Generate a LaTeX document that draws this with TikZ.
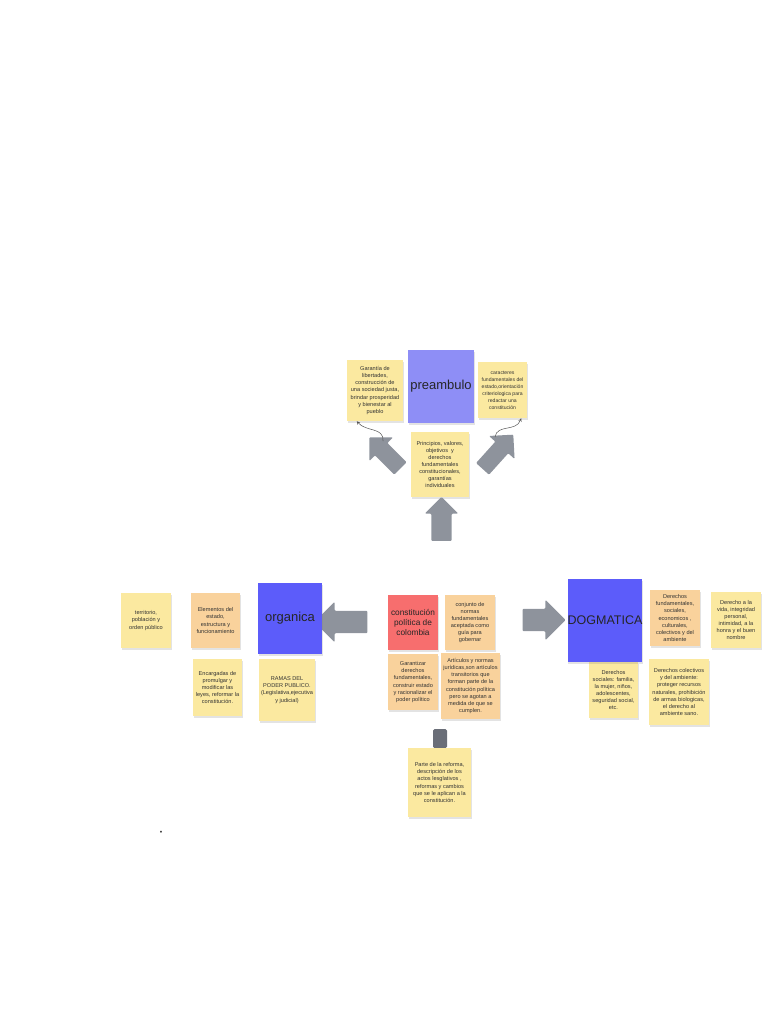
\documentclass[tikz,border=0pt]{standalone}
\usepackage{fontspec}
\setmainfont{Liberation Sans}
\usetikzlibrary{shapes.arrows,shadows}
\definecolor{noteyellow}{HTML}{FBE9A0}
\definecolor{notepeach}{HTML}{F9D29C}
\definecolor{notetext}{HTML}{333333}
\definecolor{lightblue}{HTML}{8E8EF6}
\definecolor{deepblue}{HTML}{5C5CFA}
\definecolor{redbox}{HTML}{F76E6E}
\definecolor{arrowgray}{HTML}{8E939C}
\definecolor{tabgray}{HTML}{6A6E78}
\definecolor{linkgray}{HTML}{555555}
\tikzset{
	noteshadow/.style = {drop shadow={shadow xshift=0.5pt, shadow yshift=-2pt, opacity=0.22}},
	sticky/.style     = {fill=noteyellow, rectangle, inner sep=0pt, align=center, text=notetext,
	                     font=\fontsize{5.6}{7.1}\selectfont, noteshadow},
	peach/.style      = {sticky, fill=notepeach},
	titlebox/.style   = {rectangle, inner sep=0pt, align=center, text=black!85, noteshadow},
	bigarrow/.style   = {single arrow, fill=arrowgray, single arrow head indent=0pt, rounded corners=1pt},
	link/.style       = {->, >=stealth, draw=linkgray, line width=0.5pt},
}

\begin{document}
\begin{tikzpicture}[x=1pt, y=-1pt]
	\useasboundingbox (0,0) rectangle (768,1024);

	% Preambulo group
	\node[titlebox, fill=lightblue, minimum width=66pt, minimum height=73pt, font=\fontsize{13}{15}\selectfont] (preambulo) at (441,386.5) {preambulo};
	\node[sticky, minimum width=56pt, minimum height=61pt] (garantia) at (375,390.5)
		{Garantía de\\libertades,\\construcción de\\una sociedad justa,\\brindar prosperidad\\y bienestar al\\pueblo};
	\node[sticky, minimum width=49pt, minimum height=56pt, font=\fontsize{5.1}{7}\selectfont] (caracteres) at (502.5,390)
		{caracteres\\fundamentales del\\estado,orientación\\criteriologica para\\redactar una\\constitución};
	\node[sticky, minimum width=58pt, minimum height=65pt] (principios) at (440,464.5)
		{Principios, valores,\\objetivos\ \ y\\derechos\\fundamentales\\constitucionales,\\garantías\\individuales};

	% Block arrows
	\node[bigarrow, inner sep=8.5pt, minimum height=44pt, single arrow head extend=8pt, rotate=135] (uparrowl) at (388,456) {};
	\node[bigarrow, inner sep=8.5pt, minimum height=46pt, single arrow head extend=8.5pt, rotate=48] (uparrowr) at (495,455) {};
	\node[bigarrow, inner sep=10pt, minimum height=44pt, single arrow head extend=6.5pt, rotate=90] (uparrow) at (441.5,524) {};
	\node[bigarrow, inner sep=11pt, minimum height=53pt, single arrow head extend=9pt, rotate=180] (leftarrow) at (346.5,622) {};
	\node[bigarrow, inner sep=11pt, minimum height=43pt, single arrow head extend=9pt] (rightarrow) at (538.5,620) {};

	% Curved links
	\coordinate (lbend) at (383,441);
	\coordinate (rbend) at (495,437);
	\draw[link] (lbend) .. controls (384,427) and (366,432) .. ([xshift=10pt]garantia.south west);
	\draw[link] (rbend) .. controls (497,424) and (516,432) .. ([xshift=-6pt]caracteres.south east);

	% Center group
	\node[titlebox, fill=redbox, minimum width=50pt, minimum height=55pt, font=\fontsize{8.3}{10}\selectfont] (constitucion) at (413,622.5)
		{constitución\\política de\\colombia};
	\node[peach, minimum width=50pt, minimum height=55pt] (conjunto) at (470,622.5)
		{conjunto de\\normas\\fundamentales\\aceptada como\\guía para\\gobernar};
	\node[peach, minimum width=50pt, minimum height=56pt] (garantizar) at (413,682)
		{Garantizar\\derechos\\fundamentales,\\construir estado\\y racionalizar el\\poder político};
	\node[peach, minimum width=59pt, minimum height=66pt] (articulos) at (470.5,686)
		{Artículos y normas\\jurídicas,son artículos\\transitorios que\\forman parte de la\\constitución política\\pero se agotan a\\medida de que se\\cumplen.};

	% Bottom note
	\node[rectangle, fill=tabgray, rounded corners=1.5pt, minimum width=14pt, minimum height=19pt] (tab) at (440,738.5) {};
	\node[sticky, minimum width=63pt, minimum height=69pt] (reforma) at (439.5,782.5)
		{Parte de la reforma,\\descripción de los\\actos lesglativos ,\\reformas y cambios\\que se le aplican a la\\constitución.};

	% Organica group
	\node[titlebox, fill=deepblue, minimum width=64pt, minimum height=71pt, font=\fontsize{13}{15}\selectfont] (organica) at (290,618.5) {organica};
	\node[sticky, minimum width=50pt, minimum height=55pt] (territorio) at (146,620.5) {territorio,\\población y\\orden público};
	\node[peach, minimum width=49pt, minimum height=55pt] (elementos) at (215.5,620.5) {Elementos del\\estado,\\estructura y\\funcionamiento};
	\node[sticky, minimum width=49pt, minimum height=57pt] (encargadas) at (217.5,687.5)
		{Encargadas de\\promulgar y\\modificar las\\leyes, reformar la\\constitución.};
	\node[sticky, minimum width=56pt, minimum height=62pt] (ramas) at (287,690)
		{RAMAS DEL\\PODER PUBLICO.\\(Legislativa,ejecutiva\\y judicial)};

	% Dogmatica group
	\node[sticky, minimum width=49pt, minimum height=56pt] (sociales) at (613.5,690)
		{Derechos\\sociales: familia,\\la mujer, niños,\\adolescentes,\\seguridad social,\\etc.};
	\node[titlebox, fill=deepblue, minimum width=74pt, minimum height=83pt, font=\fontsize{12.5}{15}\selectfont] (dogmatica) at (605,620.5) {DOGMATICA};
	\node[peach, minimum width=50pt, minimum height=56pt] (fundamentales) at (675,618)
		{Derechos\\fundamentales,\\sociales,\\economicos ,\\culturales,\\colectivos y del\\ambiente};
	\node[sticky, minimum width=50pt, minimum height=56pt] (vida) at (736,620)
		{Derecho a la\\vida, integridad\\personal,\\intimidad, a la\\honra y el buen\\nombre};
	\node[sticky, minimum width=60pt, minimum height=66pt] (colectivos) at (679,692)
		{Derechos colectivos\\y del ambiente:\\proteger recursos\\naturales, prohibición\\de armas biologicas,\\el derecho al\\ambiente sano.};

	% Stray bullet
	\node[text=black!80, font=\fontsize{7}{8}\selectfont, inner sep=0pt] (bullet) at (161,833) {\textbullet};
\end{tikzpicture}
\end{document}
